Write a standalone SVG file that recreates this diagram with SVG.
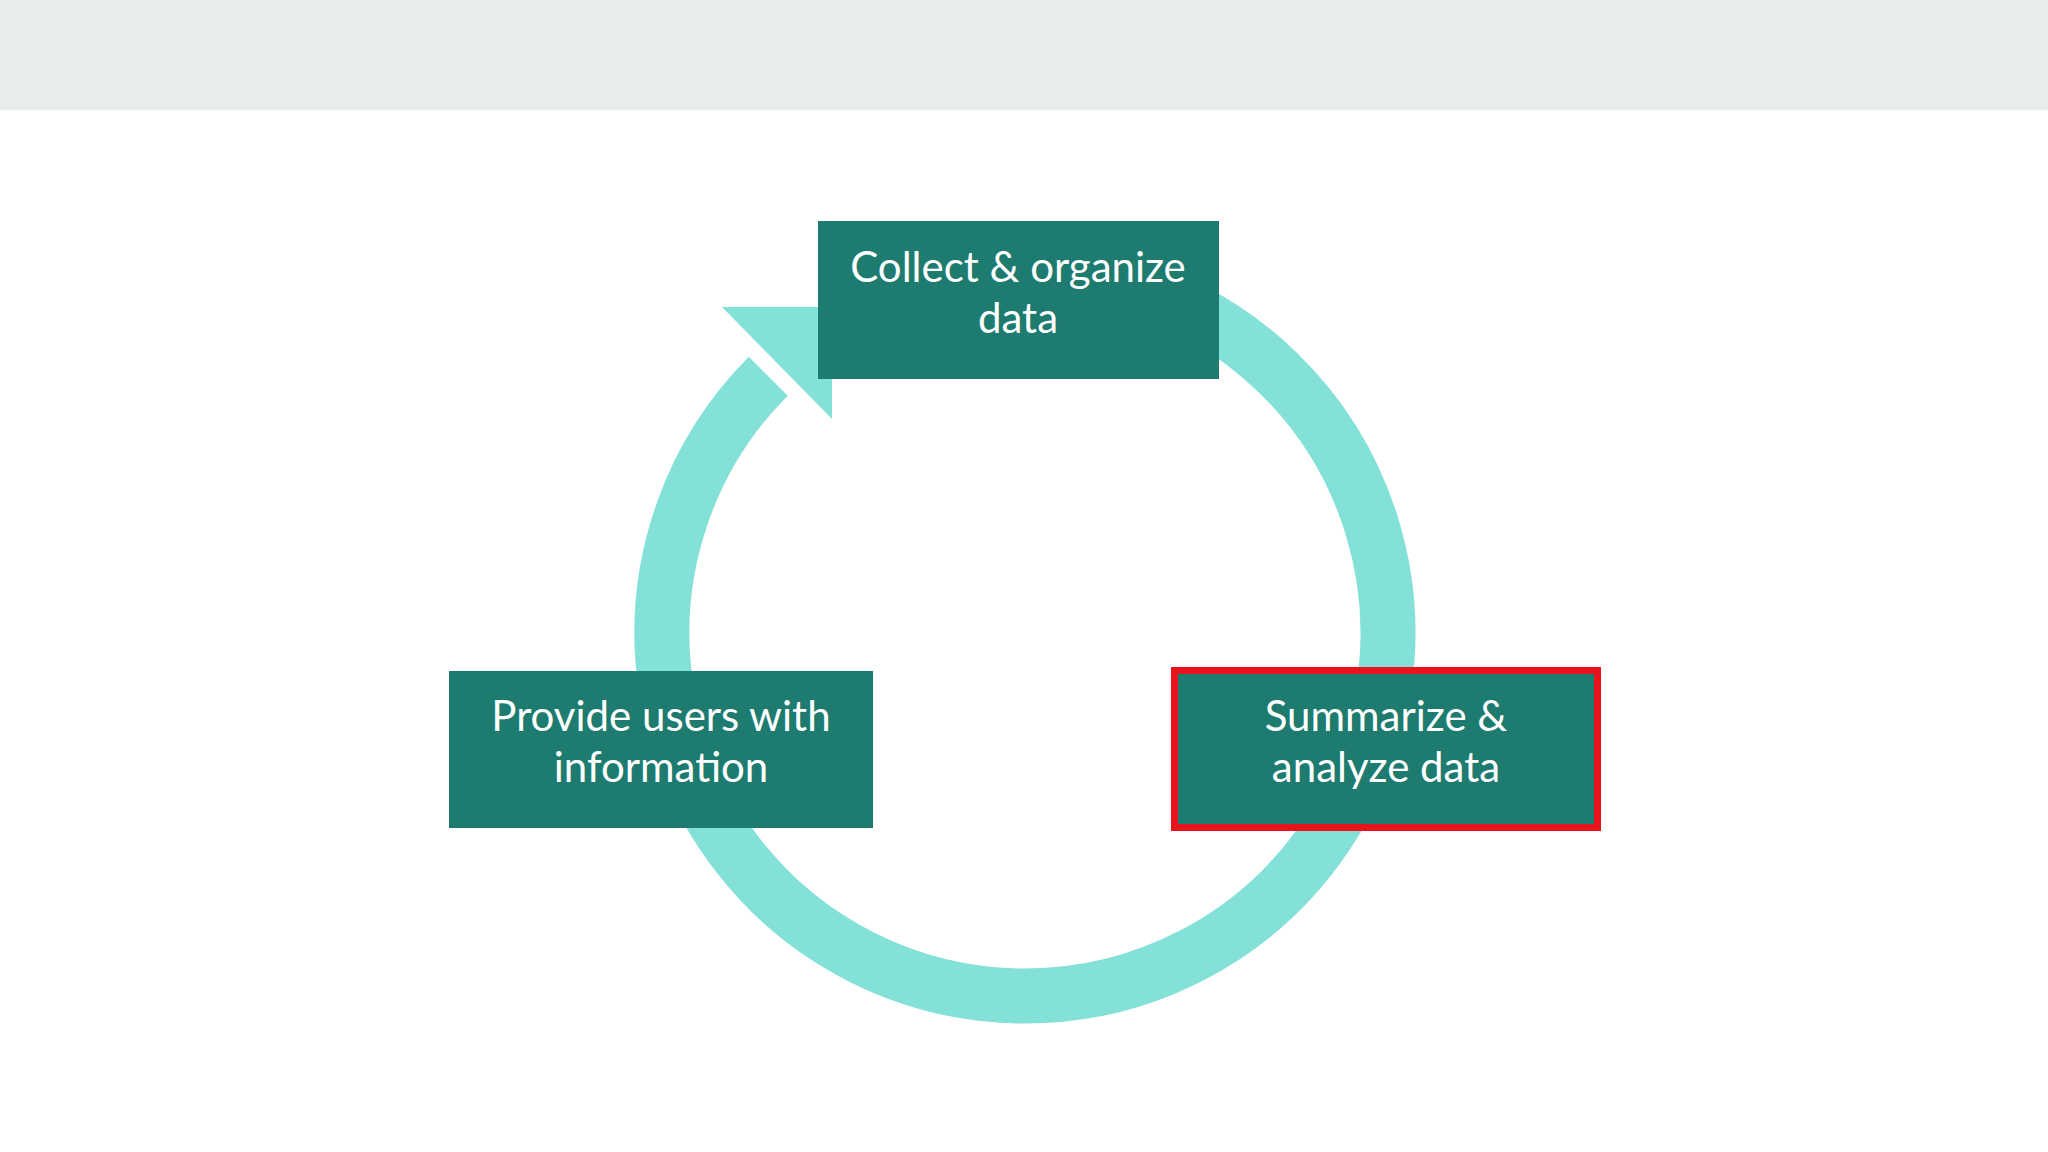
<svg xmlns="http://www.w3.org/2000/svg" width="2048" height="1152" viewBox="0 0 2048 1152">
<style>
.box{fill:#1e7b6f}
.t{fill:#fff;font-family:Lato,"Open Sans",sans-serif;font-size:42px;text-anchor:middle}
</style>
<rect width="2048" height="1152" fill="#fff"/>
<rect width="2048" height="110" fill="#e8eeed"/>
<g id="connectors">
<path d="M962,275.5 A363,363 0 1 1 768.3,376.3" fill="none" stroke="#84e1d8" stroke-width="55"/>
<polygon points="722,307 832,307 832,419" fill="#84e1d8"/>
</g>
<g id="collect">
<rect class="box" x="818" y="221" width="401" height="158"/>
<text class="t" x="1018" y="282">Collect &amp; organize</text>
<text class="t" x="1018" y="333">data</text>
</g>
<g id="provide">
<rect class="box" x="449" y="671" width="424" height="157"/>
<text class="t" x="661" y="731">Provide users with</text>
<text class="t" x="661" y="782">information</text>
</g>
<g id="summarize">
<rect class="box" x="1174.5" y="670.5" width="423" height="157" stroke="#e8141c" stroke-width="7"/>
<text class="t" x="1386" y="731">Summarize &amp;</text>
<text class="t" x="1386" y="782">analyze data</text>
</g>
</svg>
